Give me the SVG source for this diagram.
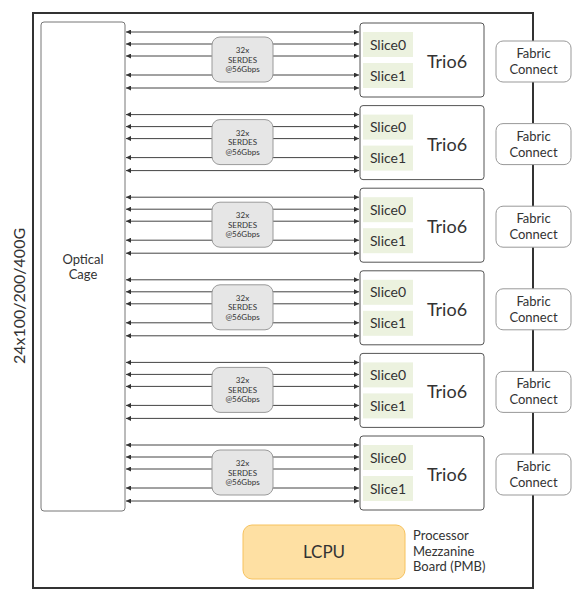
<svg xmlns="http://www.w3.org/2000/svg" width="583" height="600" viewBox="0 0 583 600">
<defs>
<style>
text{font-family:Lato,"Open Sans","Liberation Sans",sans-serif;fill:#333}
.trio{fill:#fff;stroke:#555;stroke-width:1}
.slice{fill:#ecf2df}
.fab{fill:#fff;stroke:#999;stroke-width:1}
.ser{fill:#e6e6e6;stroke:#9a9a9a;stroke-width:1}
.ln{stroke:#444;stroke-width:1;fill:none;marker-start:url(#ah);marker-end:url(#ah)}
</style>
<marker id="ah" viewBox="0 0 10 10" refX="10" refY="5" markerWidth="8" markerHeight="5" markerUnits="userSpaceOnUse" orient="auto-start-reverse">
<path d="M0,0 L10,5 L0,10 z" fill="#333"/>
</marker>
</defs>
<rect width="583" height="600" fill="#fff"/>
<rect x="33" y="13" width="500" height="575" fill="#fff" stroke="#333" stroke-width="2"/>
<text x="0" y="0" font-size="16" text-anchor="middle" transform="translate(25,296) rotate(-90)">24x100/200/400G</text>
<g id="optical-cage">
<rect x="41" y="22" width="84" height="489" rx="3" fill="#fff" stroke="#777"/>
<text x="83" y="264" font-size="13" text-anchor="middle">Optical</text>
<text x="83" y="279" font-size="13" text-anchor="middle">Cage</text>
</g>
<g id="connectors">
<g transform="translate(0,23)">
<line class="ln" x1="126" y1="9" x2="359" y2="9"/><line class="ln" x1="126" y1="21" x2="359" y2="21"/><line class="ln" x1="126" y1="33" x2="359" y2="33"/><line class="ln" x1="126" y1="52" x2="359" y2="52"/><line class="ln" x1="126" y1="65" x2="359" y2="65"/>
</g>
<g transform="translate(0,105.6)">
<line class="ln" x1="126" y1="9" x2="359" y2="9"/><line class="ln" x1="126" y1="21" x2="359" y2="21"/><line class="ln" x1="126" y1="33" x2="359" y2="33"/><line class="ln" x1="126" y1="52" x2="359" y2="52"/><line class="ln" x1="126" y1="65" x2="359" y2="65"/>
</g>
<g transform="translate(0,188.2)">
<line class="ln" x1="126" y1="9" x2="359" y2="9"/><line class="ln" x1="126" y1="21" x2="359" y2="21"/><line class="ln" x1="126" y1="33" x2="359" y2="33"/><line class="ln" x1="126" y1="52" x2="359" y2="52"/><line class="ln" x1="126" y1="65" x2="359" y2="65"/>
</g>
<g transform="translate(0,270.8)">
<line class="ln" x1="126" y1="9" x2="359" y2="9"/><line class="ln" x1="126" y1="21" x2="359" y2="21"/><line class="ln" x1="126" y1="33" x2="359" y2="33"/><line class="ln" x1="126" y1="52" x2="359" y2="52"/><line class="ln" x1="126" y1="65" x2="359" y2="65"/>
</g>
<g transform="translate(0,353.4)">
<line class="ln" x1="126" y1="9" x2="359" y2="9"/><line class="ln" x1="126" y1="21" x2="359" y2="21"/><line class="ln" x1="126" y1="33" x2="359" y2="33"/><line class="ln" x1="126" y1="52" x2="359" y2="52"/><line class="ln" x1="126" y1="65" x2="359" y2="65"/>
</g>
<g transform="translate(0,436)">
<line class="ln" x1="126" y1="9" x2="359" y2="9"/><line class="ln" x1="126" y1="21" x2="359" y2="21"/><line class="ln" x1="126" y1="33" x2="359" y2="33"/><line class="ln" x1="126" y1="52" x2="359" y2="52"/><line class="ln" x1="126" y1="65" x2="359" y2="65"/>
</g>
</g>
<g id="block1" transform="translate(0,23)">
<g id="serdes1"><rect class="ser" x="212" y="14" width="61" height="45" rx="8"/><text x="242.5" y="30" font-size="8" text-anchor="middle">32x</text><text x="242.5" y="39.5" font-size="8" text-anchor="middle">SERDES</text><text x="242.5" y="49" font-size="8" text-anchor="middle">@56Gbps</text></g>
<g id="trio1"><rect class="trio" x="360" y="0" width="124" height="74" rx="3"/><rect class="slice" x="363" y="9" width="50" height="25"/><rect class="slice" x="363" y="40" width="50" height="25"/><text x="388" y="26.5" font-size="14" text-anchor="middle">Slice0</text><text x="388" y="57.5" font-size="14" text-anchor="middle">Slice1</text><text x="447" y="45" font-size="18" text-anchor="middle">Trio6</text></g>
<g id="fabric1"><rect class="fab" x="496" y="18" width="75" height="41" rx="7"/><text x="533.5" y="35" font-size="13" text-anchor="middle">Fabric</text><text x="533.5" y="51" font-size="13" text-anchor="middle">Connect</text></g>
</g>
<g id="block2" transform="translate(0,105.6)">
<g id="serdes2"><rect class="ser" x="212" y="14" width="61" height="45" rx="8"/><text x="242.5" y="30" font-size="8" text-anchor="middle">32x</text><text x="242.5" y="39.5" font-size="8" text-anchor="middle">SERDES</text><text x="242.5" y="49" font-size="8" text-anchor="middle">@56Gbps</text></g>
<g id="trio2"><rect class="trio" x="360" y="0" width="124" height="74" rx="3"/><rect class="slice" x="363" y="9" width="50" height="25"/><rect class="slice" x="363" y="40" width="50" height="25"/><text x="388" y="26.5" font-size="14" text-anchor="middle">Slice0</text><text x="388" y="57.5" font-size="14" text-anchor="middle">Slice1</text><text x="447" y="45" font-size="18" text-anchor="middle">Trio6</text></g>
<g id="fabric2"><rect class="fab" x="496" y="18" width="75" height="41" rx="7"/><text x="533.5" y="35" font-size="13" text-anchor="middle">Fabric</text><text x="533.5" y="51" font-size="13" text-anchor="middle">Connect</text></g>
</g>
<g id="block3" transform="translate(0,188.2)">
<g id="serdes3"><rect class="ser" x="212" y="14" width="61" height="45" rx="8"/><text x="242.5" y="30" font-size="8" text-anchor="middle">32x</text><text x="242.5" y="39.5" font-size="8" text-anchor="middle">SERDES</text><text x="242.5" y="49" font-size="8" text-anchor="middle">@56Gbps</text></g>
<g id="trio3"><rect class="trio" x="360" y="0" width="124" height="74" rx="3"/><rect class="slice" x="363" y="9" width="50" height="25"/><rect class="slice" x="363" y="40" width="50" height="25"/><text x="388" y="26.5" font-size="14" text-anchor="middle">Slice0</text><text x="388" y="57.5" font-size="14" text-anchor="middle">Slice1</text><text x="447" y="45" font-size="18" text-anchor="middle">Trio6</text></g>
<g id="fabric3"><rect class="fab" x="496" y="18" width="75" height="41" rx="7"/><text x="533.5" y="35" font-size="13" text-anchor="middle">Fabric</text><text x="533.5" y="51" font-size="13" text-anchor="middle">Connect</text></g>
</g>
<g id="block4" transform="translate(0,270.8)">
<g id="serdes4"><rect class="ser" x="212" y="14" width="61" height="45" rx="8"/><text x="242.5" y="30" font-size="8" text-anchor="middle">32x</text><text x="242.5" y="39.5" font-size="8" text-anchor="middle">SERDES</text><text x="242.5" y="49" font-size="8" text-anchor="middle">@56Gbps</text></g>
<g id="trio4"><rect class="trio" x="360" y="0" width="124" height="74" rx="3"/><rect class="slice" x="363" y="9" width="50" height="25"/><rect class="slice" x="363" y="40" width="50" height="25"/><text x="388" y="26.5" font-size="14" text-anchor="middle">Slice0</text><text x="388" y="57.5" font-size="14" text-anchor="middle">Slice1</text><text x="447" y="45" font-size="18" text-anchor="middle">Trio6</text></g>
<g id="fabric4"><rect class="fab" x="496" y="18" width="75" height="41" rx="7"/><text x="533.5" y="35" font-size="13" text-anchor="middle">Fabric</text><text x="533.5" y="51" font-size="13" text-anchor="middle">Connect</text></g>
</g>
<g id="block5" transform="translate(0,353.4)">
<g id="serdes5"><rect class="ser" x="212" y="14" width="61" height="45" rx="8"/><text x="242.5" y="30" font-size="8" text-anchor="middle">32x</text><text x="242.5" y="39.5" font-size="8" text-anchor="middle">SERDES</text><text x="242.5" y="49" font-size="8" text-anchor="middle">@56Gbps</text></g>
<g id="trio5"><rect class="trio" x="360" y="0" width="124" height="74" rx="3"/><rect class="slice" x="363" y="9" width="50" height="25"/><rect class="slice" x="363" y="40" width="50" height="25"/><text x="388" y="26.5" font-size="14" text-anchor="middle">Slice0</text><text x="388" y="57.5" font-size="14" text-anchor="middle">Slice1</text><text x="447" y="45" font-size="18" text-anchor="middle">Trio6</text></g>
<g id="fabric5"><rect class="fab" x="496" y="18" width="75" height="41" rx="7"/><text x="533.5" y="35" font-size="13" text-anchor="middle">Fabric</text><text x="533.5" y="51" font-size="13" text-anchor="middle">Connect</text></g>
</g>
<g id="block6" transform="translate(0,436)">
<g id="serdes6"><rect class="ser" x="212" y="14" width="61" height="45" rx="8"/><text x="242.5" y="30" font-size="8" text-anchor="middle">32x</text><text x="242.5" y="39.5" font-size="8" text-anchor="middle">SERDES</text><text x="242.5" y="49" font-size="8" text-anchor="middle">@56Gbps</text></g>
<g id="trio6"><rect class="trio" x="360" y="0" width="124" height="74" rx="3"/><rect class="slice" x="363" y="9" width="50" height="25"/><rect class="slice" x="363" y="40" width="50" height="25"/><text x="388" y="26.5" font-size="14" text-anchor="middle">Slice0</text><text x="388" y="57.5" font-size="14" text-anchor="middle">Slice1</text><text x="447" y="45" font-size="18" text-anchor="middle">Trio6</text></g>
<g id="fabric6"><rect class="fab" x="496" y="18" width="75" height="41" rx="7"/><text x="533.5" y="35" font-size="13" text-anchor="middle">Fabric</text><text x="533.5" y="51" font-size="13" text-anchor="middle">Connect</text></g>
</g>
<g id="lcpu">
<rect x="243" y="525" width="162" height="54" rx="9" fill="#fee0a3" stroke="#f6c25e" stroke-width="1"/>
<text x="324" y="558" font-size="17" text-anchor="middle">LCPU</text>
</g>
<g id="pmb-label">
<text x="413" y="540" font-size="13">Processor</text>
<text x="413" y="556" font-size="13">Mezzanine</text>
<text x="413" y="571" font-size="13">Board (PMB)</text>
</g>
</svg>
